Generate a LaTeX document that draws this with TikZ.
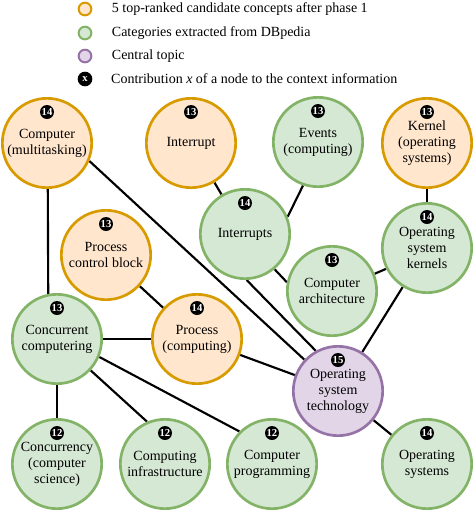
\documentclass[tikz,border=0pt]{standalone}
\usepackage{fontspec}
\setmainfont{LiberationSerif}[Extension=.ttf,UprightFont=*-Regular,BoldFont=*-Bold,ItalicFont=*-Italic,BoldItalicFont=*-BoldItalic]
\usepackage{tikz}
\usetikzlibrary{positioning,backgrounds}
\definecolor{orfill}{HTML}{FFE6CC}
\definecolor{ordraw}{HTML}{D79B00}
\definecolor{grfill}{HTML}{D5E8D4}
\definecolor{grdraw}{HTML}{82B366}
\definecolor{pufill}{HTML}{E1D5E7}
\definecolor{pudraw}{HTML}{9673A6}
\tikzset{
  topic/.style={circle,line width=2pt,minimum size=67pt,inner sep=0pt,align=center,
                font=\fontsize{10.5}{12}\selectfont},
  cand/.style={topic,draw=ordraw,fill=orfill},
  cat/.style={topic,draw=grdraw,fill=grfill},
  central/.style={topic,draw=pudraw,fill=pufill},
  badge/.style={circle,fill=black,text=white,minimum size=10.5pt,inner sep=0pt,
                font=\fontsize{8}{8}\bfseries\selectfont},
  legdot/.style={circle,line width=1.5pt,minimum size=9.5pt,inner sep=0pt},
  legtxt/.style={inner sep=0pt,font=\fontsize{10.5}{12}\selectfont},
  link/.style={draw=black,line width=1.6pt}
}

\begin{document}
\begin{tikzpicture}[x=0.75pt,y=-0.75pt]
  \useasboundingbox (0,0) rectangle (474,512);

  % legend
  \node[legdot,draw=ordraw,fill=orfill] (lg1) at (85,9) {};
  \node[legdot,draw=grdraw,fill=grfill] (lg2) at (85,33) {};
  \node[legdot,draw=pudraw,fill=pufill] (lg3) at (85,56) {};
  \node[badge,minimum size=11pt] (lg4) at (85,79) {x};
  \node[legtxt,right=14.5pt of lg1] (lt1) {5 top-ranked candidate concepts after phase 1};
  \node[legtxt,right=14.5pt of lg2] (lt2) {Categories extracted from DBpedia};
  \node[legtxt,right=14.5pt of lg3] (lt3) {Central topic};
  \node[legtxt,right=13.75pt of lg4] (lt4) {Contribution \textit{x} of a node to the context information};

  % concepts
  \node[cand] (comp) at (47,143) {Computer\\(multitasking)};
  \node[cand] (intr) at (191,143) {Interrupt};
  \node[cat] (events) at (318,142) {Events\\(computing)};
  \node[cand] (kernel) at (427,143) {Kernel\\(operating\\systems)};
  \node[cat] (intrs) at (245,234) {Interrupts};
  \node[cat] (oskern) at (427,248) {Operating\\system\\kernels};
  \node[cand] (pcb) at (106,255) {Process\\control block};
  \node[cat] (arch) at (332,291) {Computer\\architecture};
  \node[cat] (concur) at (57,339) {Concurrent\\computering};
  \node[cand] (proc) at (197,339) {Process\\(computing)};
  \node[central] (ost) at (338,391) {Operating\\system\\technology};
  \node[cat] (concy) at (57,464) {Concurrency\\(computer\\science)};
  \node[cat] (infra) at (165,464) {Computing\\infrastructure};
  \node[cat] (prog) at (272,464) {Computer\\programming};
  \node[cat] (ossys) at (427,464) {Operating\\systems};

  % contributions
  \node[badge] (bcomp) at (47,112) {14};
  \node[badge] (bintr) at (191,112) {13};
  \node[badge] (bevents) at (318,111) {13};
  \node[badge] (bkernel) at (427,112) {13};
  \node[badge] (bintrs) at (245,203) {14};
  \node[badge] (boskern) at (427,217) {14};
  \node[badge] (bpcb) at (106,224) {13};
  \node[badge] (barch) at (332,260) {13};
  \node[badge] (bconcur) at (57,308) {13};
  \node[badge] (bproc) at (197,308) {14};
  \node[badge] (bost) at (338,360) {15};
  \node[badge] (bconcy) at (57,433) {12};
  \node[badge] (binfra) at (165,433) {12};
  \node[badge] (bprog) at (272,433) {12};
  \node[badge] (bossys) at (427,433) {14};

  \begin{scope}[on background layer]
    \draw[link] (comp.-89) -- (concur.101);
    \draw[link] (comp.-23) -- (ost.137);
    \draw[link] (intr) -- (intrs);
    \draw[link] (events.-109) -- (intrs.22);
    \draw[link] (kernel) -- (oskern);
    \draw[link] (oskern.-153) -- (arch.22);
    \draw[link] (oskern) -- (ost);
    \draw[link] (intrs.-50) -- (arch.169);
    \draw[link] (intrs.-88) -- (ost.119);
    \draw[link] (pcb) -- (proc);
    \draw[link] (concur) -- (proc);
    \draw[link] (proc) -- (ost);
    \draw[link] (concur) -- (concy);
    \draw[link] (concur.-43) -- (infra.113);
    \draw[link] (concur.-23) -- (prog.135);
    \draw[link] (ost) -- (ossys);
  \end{scope}
\end{tikzpicture}
\end{document}
